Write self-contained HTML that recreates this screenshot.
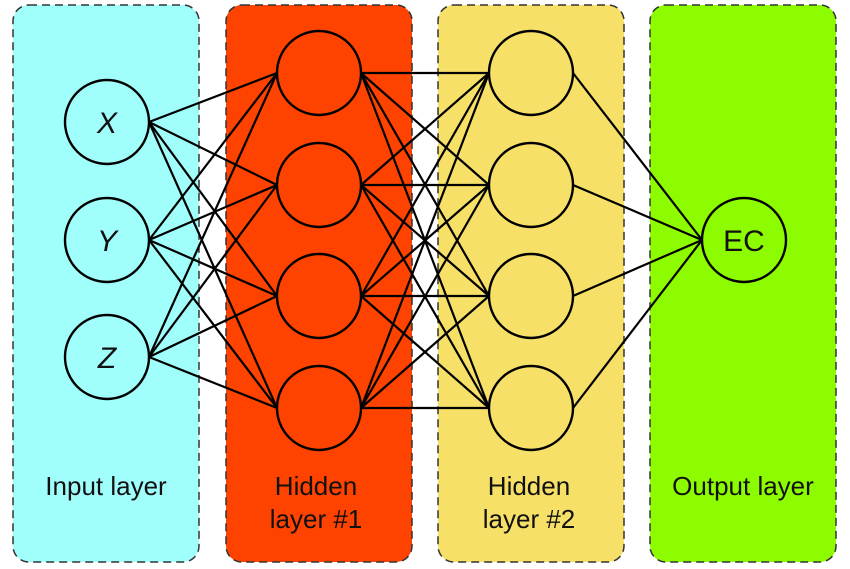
<!DOCTYPE html>
<html><head><meta charset="utf-8"><style>body{margin:0;background:#fff}svg{display:block}text{font-family:"Liberation Sans",sans-serif;fill:#111}</style></head><body>
<svg width="850" height="569" viewBox="0 0 850 569">
<g stroke="#333" stroke-width="1.5" stroke-dasharray="8,5">
<rect x="13" y="5" width="186" height="557" rx="16" fill="#a0fefb"/>
<rect x="226" y="5" width="186" height="557" rx="16" fill="#fe4200"/>
<rect x="438" y="5" width="186" height="557" rx="16" fill="#f7e067"/>
<rect x="650" y="5" width="186" height="557" rx="16" fill="#8efc00"/>
</g>
<g stroke="#000" stroke-width="2.2" id="e"></g>
<g fill="none" stroke="#000" stroke-width="2.4" id="n"></g>
<text x="107" y="133" font-size="30" font-style="italic" text-anchor="middle">X</text>
<text x="107" y="251" font-size="30" font-style="italic" text-anchor="middle">Y</text>
<text x="107" y="368" font-size="30" font-style="italic" text-anchor="middle">Z</text>
<text x="744" y="251" font-size="30" text-anchor="middle">EC</text>
<g font-size="26" text-anchor="middle">
<text x="106" y="495">Input layer</text>
<text x="316" y="495">Hidden</text><text x="316" y="528">layer #1</text>
<text x="529" y="495">Hidden</text><text x="529" y="528">layer #2</text>
<text x="743" y="495">Output layer</text>
</g>
<script>
var ns="http://www.w3.org/2000/svg",r=42;
var L=[[107,[122,240,357]],[319,[73,185,296,408]],[531,[73,185,296,408]],[744,[240]]];
var e=document.getElementById('e'),n=document.getElementById('n');
for(var i=0;i<3;i++){var a=L[i],b=L[i+1];a[1].forEach(function(y1){b[1].forEach(function(y2){var l=document.createElementNS(ns,'line');l.setAttribute('x1',a[0]+r);l.setAttribute('y1',y1);l.setAttribute('x2',b[0]-r);l.setAttribute('y2',y2);e.appendChild(l);});});}
L.forEach(function(a){a[1].forEach(function(y){var c=document.createElementNS(ns,'circle');c.setAttribute('cx',a[0]);c.setAttribute('cy',y);c.setAttribute('r',r);n.appendChild(c);});});
</script>
</svg>
</body></html>
